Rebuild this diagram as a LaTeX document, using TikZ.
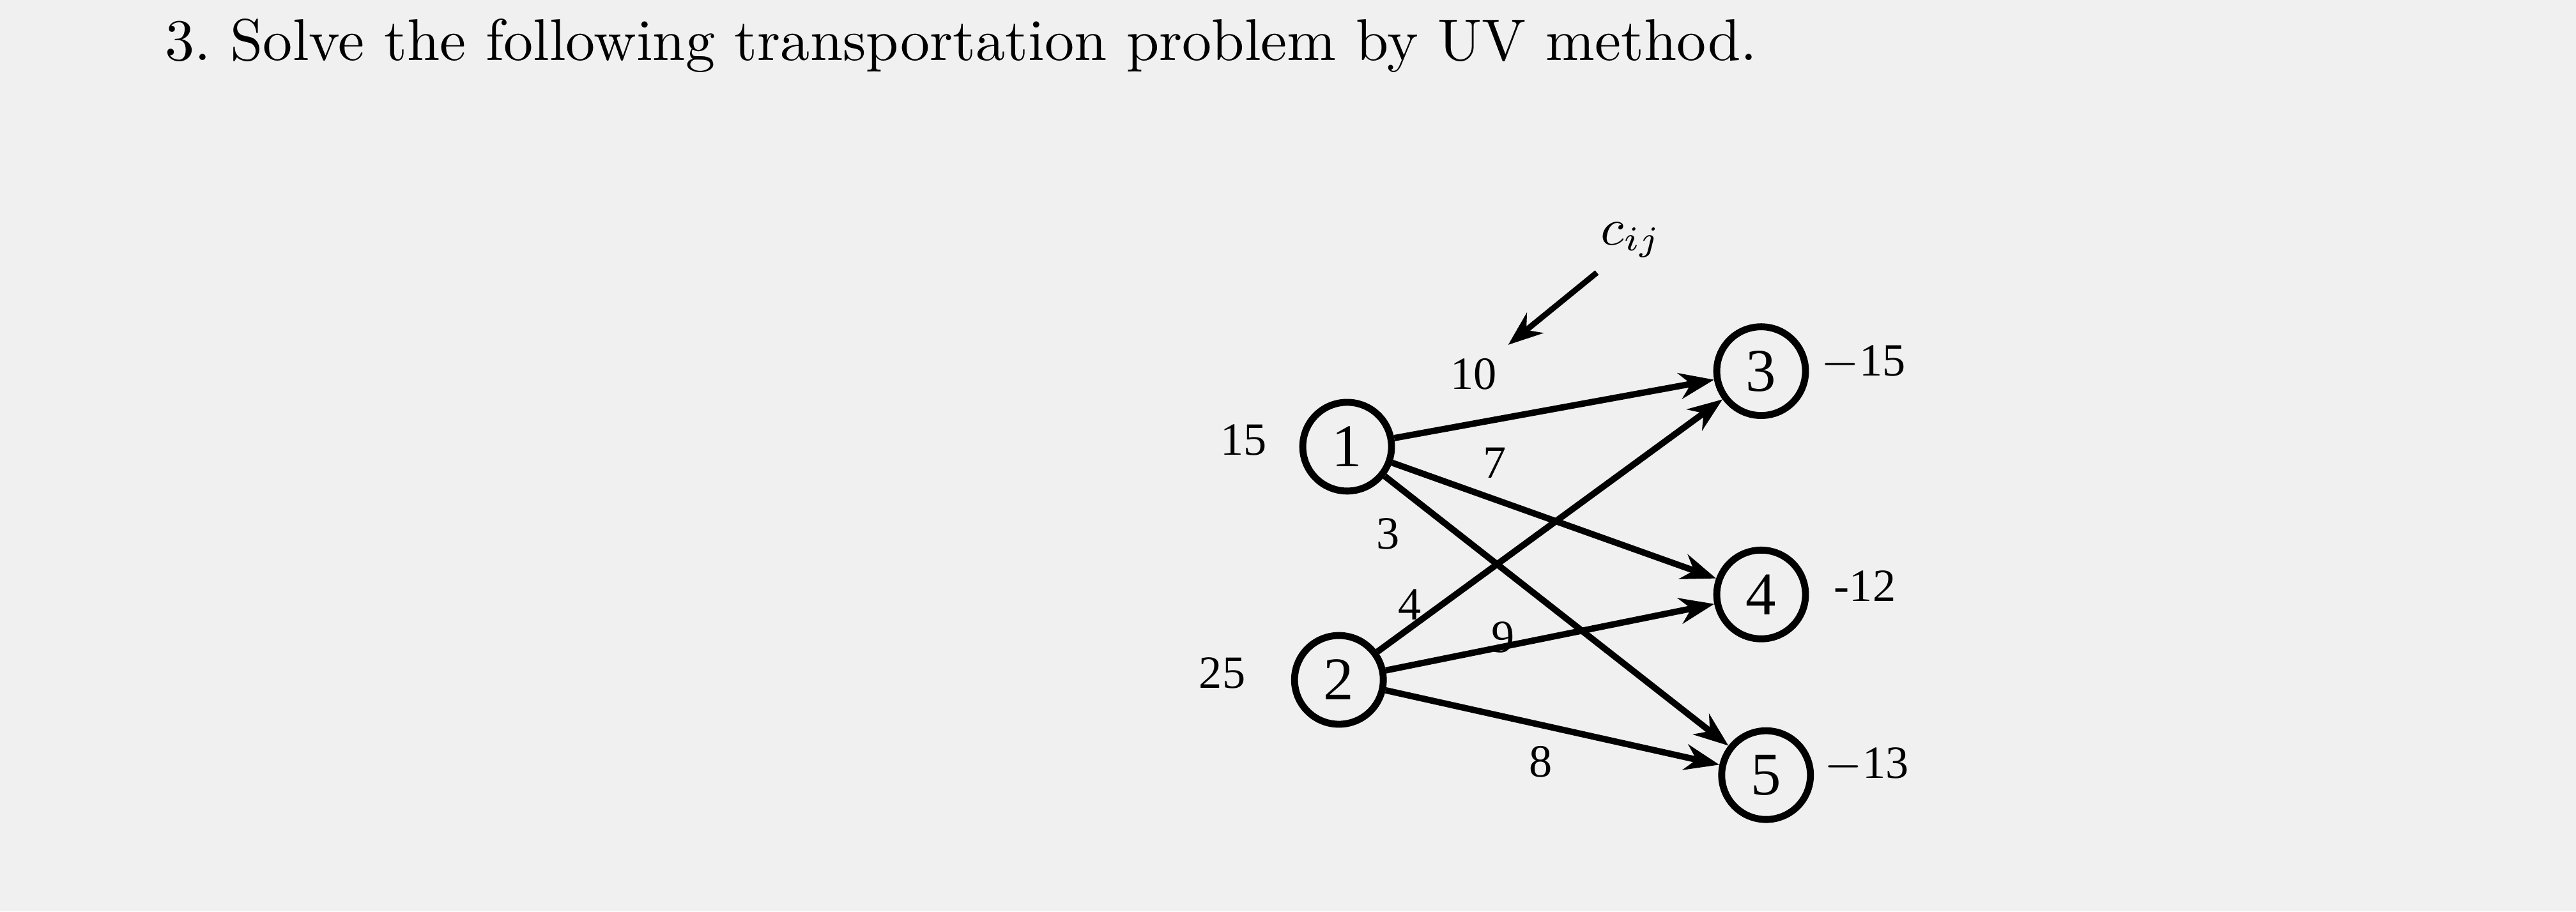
\documentclass[tikz,border=0pt]{standalone}
\usepackage{fontspec}
\usetikzlibrary{arrows.meta}
\newfontfamily\tms{Liberation Serif}
\begin{document}
\begin{tikzpicture}[x=0.01cm,y=-0.01cm,
  nd/.style={circle,draw,line width=1.2pt,minimum size=0.54cm,inner sep=0pt,font=\tms\fontsize{10.5}{10.5}\selectfont},
  lb/.style={font=\tms\fontsize{8}{8}\selectfont},
  ar/.style={line width=1.1pt,-{Stealth[length=6pt,width=4.5pt]}}]
\fill[gray!12] (0,0) rectangle (1568,555);
\useasboundingbox (0,0) rectangle (1568,555);
\node[anchor=west,font=\fontsize{10.2}{10.2}\selectfont] (t) at (88,28) {3.\ Solve the following transportation problem by UV method.};
\node[nd] (n1) at (820,272) {1};
\node[nd] (n2) at (815,414) {2};
\node[nd] (n3) at (1072,226) {3};
\node[nd] (n4) at (1072,362) {4};
\node[nd] (n5) at (1075,472) {5};
\node[lb] (s1) at (757,268) {15};
\node[lb] (s2) at (744,410) {25};
\node[lb,anchor=west] (d3) at (1096,221) {$-$15};
\node[lb,anchor=west] (d4) at (1104,357) {-12};
\node[lb,anchor=west] (d5) at (1098,466) {$-$13};
\draw[ar] (n1) -- (n3);
\draw[ar] (n1) -- (n4);
\draw[ar] (n1) -- (n5);
\draw[ar] (n2) -- (n3);
\draw[ar] (n2) -- (n4);
\draw[ar] (n2) -- (n5);
\node[lb] (l10) at (897,228) {10};
\node[lb] (l7) at (910,282) {7};
\node[lb] (l3) at (845,325) {3};
\node[lb] (l4) at (858,368) {4};
\node[lb] (l9) at (915,388) {9};
\node[lb] (l8) at (938,464) {8};
\node[font=\sffamily\fontsize{9}{9}\selectfont] (c) at (993,146) {$c_{ij}$};
\coordinate (ce) at (918,210);
\draw[line width=1pt,-{Stealth[length=6pt,width=4.5pt]}] (972,166) -- (ce);
\end{tikzpicture}
\end{document}
